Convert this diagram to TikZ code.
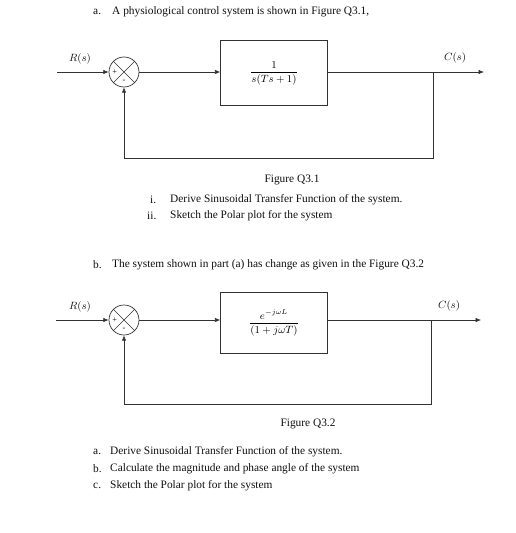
\documentclass[tikz,border=0pt]{standalone}
\usepackage{amsmath,amssymb}
\usepackage{fontspec}
\setmainfont{Liberation Serif}
\usepackage{xcolor}
\usetikzlibrary{arrows.meta, positioning, calc}
\definecolor{ctrlline}{RGB}{50,50,50}
\definecolor{ctrltext}{RGB}{15,15,15}
\tikzset{
  sumnode/.style={
    circle, draw=ctrlline, line width=0.6pt, minimum size=0.9cm, inner sep=0pt
  },
  plantblock/.style={
    rectangle, draw=ctrlline, line width=0.6pt, minimum width=3.2cm,
    minimum height=1.95cm, align=center, font=\small
  },
  sigline/.style={line width=0.5pt, draw=ctrlline},
  sigarrow/.style={-{Latex[length=1.6mm, width=1.3mm]}, line width=0.5pt, draw=ctrlline},
  siglabel/.style={font=\small, text=ctrltext, inner sep=1pt},
  signmark/.style={font=\scriptsize, inner sep=0pt},
  qtext/.style={anchor=west, font=\fontsize{9.7}{11}\selectfont, text=ctrltext, inner sep=0pt},
  captext/.style={font=\fontsize{9.7}{11}\selectfont, text=ctrltext, inner sep=0pt}
}

\begin{document}
\begin{tikzpicture}[x=0.03cm, y=-0.03cm]
\useasboundingbox (0,0) rectangle (516,533);

% Part (a) question
\node[qtext] (qa) at (93,12) {a.};
\node[qtext] (qatext) at (112,12) {A physiological control system is shown in Figure Q3.1,};

% Figure Q3.1 loop
\node[sumnode] (sum1) at (124,72) {};
\draw[sigline] (sum1.45) -- (sum1.225) (sum1.135) -- (sum1.-45);
\node[signmark] at ($(sum1.west)+(6,0)$) {+};
\node[signmark] at ($(sum1.south)+(0,-6)$) {-};
\node[plantblock] (plant1) at (274,73) {$\dfrac{1}{s(Ts+1)}$};
\coordinate (in1) at (57,72);
\coordinate (out1) at (484,72);
\coordinate (tap1) at (433,72);
\coordinate (fb1) at (433,158);
\node[siglabel, above] (r1) at (80,66) {$R(s)$};
\node[siglabel, above] (c1) at (455,65) {$C(s)$};

\draw[sigarrow] (in1) -- (sum1.west);
\draw[sigarrow] (sum1.east) -- (sum1.east -| plant1.west);
\draw[sigarrow] (plant1.east |- tap1) -- (out1);
\draw[sigarrow] (tap1) -- (fb1) -- (fb1 -| sum1) -- (sum1.south);

\node[captext] (fig1) at (292,180) {Figure Q3.1};

% Part (a) tasks
\node[qtext] (ai) at (150,200) {i.};
\node[qtext] (aitext) at (170,200) {Derive Sinusoidal Transfer Function of the system.};
\node[qtext] (aii) at (147,216) {ii.};
\node[qtext] (aiitext) at (170,216) {Sketch the Polar plot for the system};

% Part (b) question
\node[qtext] (qb) at (93,265) {b.};
\node[qtext] (qbtext) at (112,265) {The system shown in part (a) has change as given in the Figure Q3.2};

% Figure Q3.2 loop
\node[sumnode] (sum2) at (124,320) {};
\draw[sigline] (sum2.45) -- (sum2.225) (sum2.135) -- (sum2.-45);
\node[signmark] at ($(sum2.west)+(6,0)$) {+};
\node[signmark] at ($(sum2.south)+(0,-6)$) {-};
\node[plantblock, minimum height=1.85cm] (plant2) at (274,323) {$\dfrac{e^{-j\omega L}}{(1+j\omega T)}$};
\coordinate (in2) at (56,320);
\coordinate (out2) at (481,320);
\coordinate (tap2) at (431,320);
\coordinate (fb2) at (431,404);
\node[siglabel, above] (r2) at (80,314) {$R(s)$};
\node[siglabel, above] (c2) at (449,313) {$C(s)$};

\draw[sigarrow] (in2) -- (sum2.west);
\draw[sigarrow] (sum2.east) -- (sum2.east -| plant2.west);
\draw[sigarrow] (plant2.east |- tap2) -- (out2);
\draw[sigarrow] (tap2) -- (fb2) -- (fb2 -| sum2) -- (sum2.south);

\node[captext] (fig2) at (308,424) {Figure Q3.2};

% Part (b) tasks
\node[qtext] (ba) at (93,452) {a.};
\node[qtext] (batext) at (110,452) {Derive Sinusoidal Transfer Function of the system.};
\node[qtext] (bb) at (93,469) {b.};
\node[qtext] (bbtext) at (110,469) {Calculate the magnitude and phase angle of the system};
\node[qtext] (bc) at (93,486) {c.};
\node[qtext] (bctext) at (110,486) {Sketch the Polar plot for the system};

\end{tikzpicture}
\end{document}
